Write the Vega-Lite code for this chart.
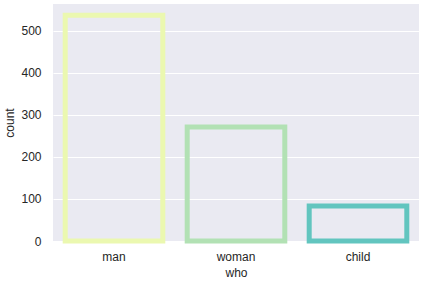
{
  "$schema": "https://vega.github.io/schema/vega-lite/v6.json",
  "width": 366,
  "height": 237,
  "autosize": {"type": "none"},
  "padding": {"left": 53, "top": 4, "right": 6, "bottom": 42},
  "background": "white",
  "config": {
    "view": {"fill": "#eaeaf2", "stroke": null},
    "font": "Liberation Sans",
    "axis": {
      "domain": false,
      "ticks": false,
      "labelFont": "Liberation Sans",
      "titleFont": "Liberation Sans",
      "labelFontSize": 12,
      "titleFontSize": 12,
      "labelColor": "#262626",
      "titleColor": "#262626",
      "titleFontWeight": "normal",
      "gridColor": "white",
      "gridWidth": 1.2,
      "gridOpacity": 1
    }
  },
  "data": {
    "values": [
      {"who": "man", "count": 537},
      {"who": "woman", "count": 271},
      {"who": "child", "count": 83}
    ]
  },
  "mark": {"type": "bar", "fill": null, "fillOpacity": 0, "strokeWidth": 5, "strokeJoin": "miter"},
  "encoding": {
    "x": {
      "field": "who",
      "type": "nominal",
      "sort": ["man", "woman", "child"],
      "scale": {"paddingInner": 0.2, "paddingOuter": 0.1},
      "axis": {"labelAngle": 0, "grid": false, "labelPadding": 10, "titlePadding": 5, "title": "who"}
    },
    "y": {
      "field": "count",
      "type": "quantitative",
      "scale": {"domain": [0, 563.85], "nice": false},
      "axis": {"values": [0, 100, 200, 300, 400, 500], "labelPadding": 12, "titlePadding": 4, "title": "count"}
    },
    "stroke": {
      "field": "who",
      "type": "nominal",
      "scale": {"domain": ["man", "woman", "child"], "range": ["#ebf8b0", "#b2e1b4", "#62c5bf"]},
      "legend": null
    }
  }
}
